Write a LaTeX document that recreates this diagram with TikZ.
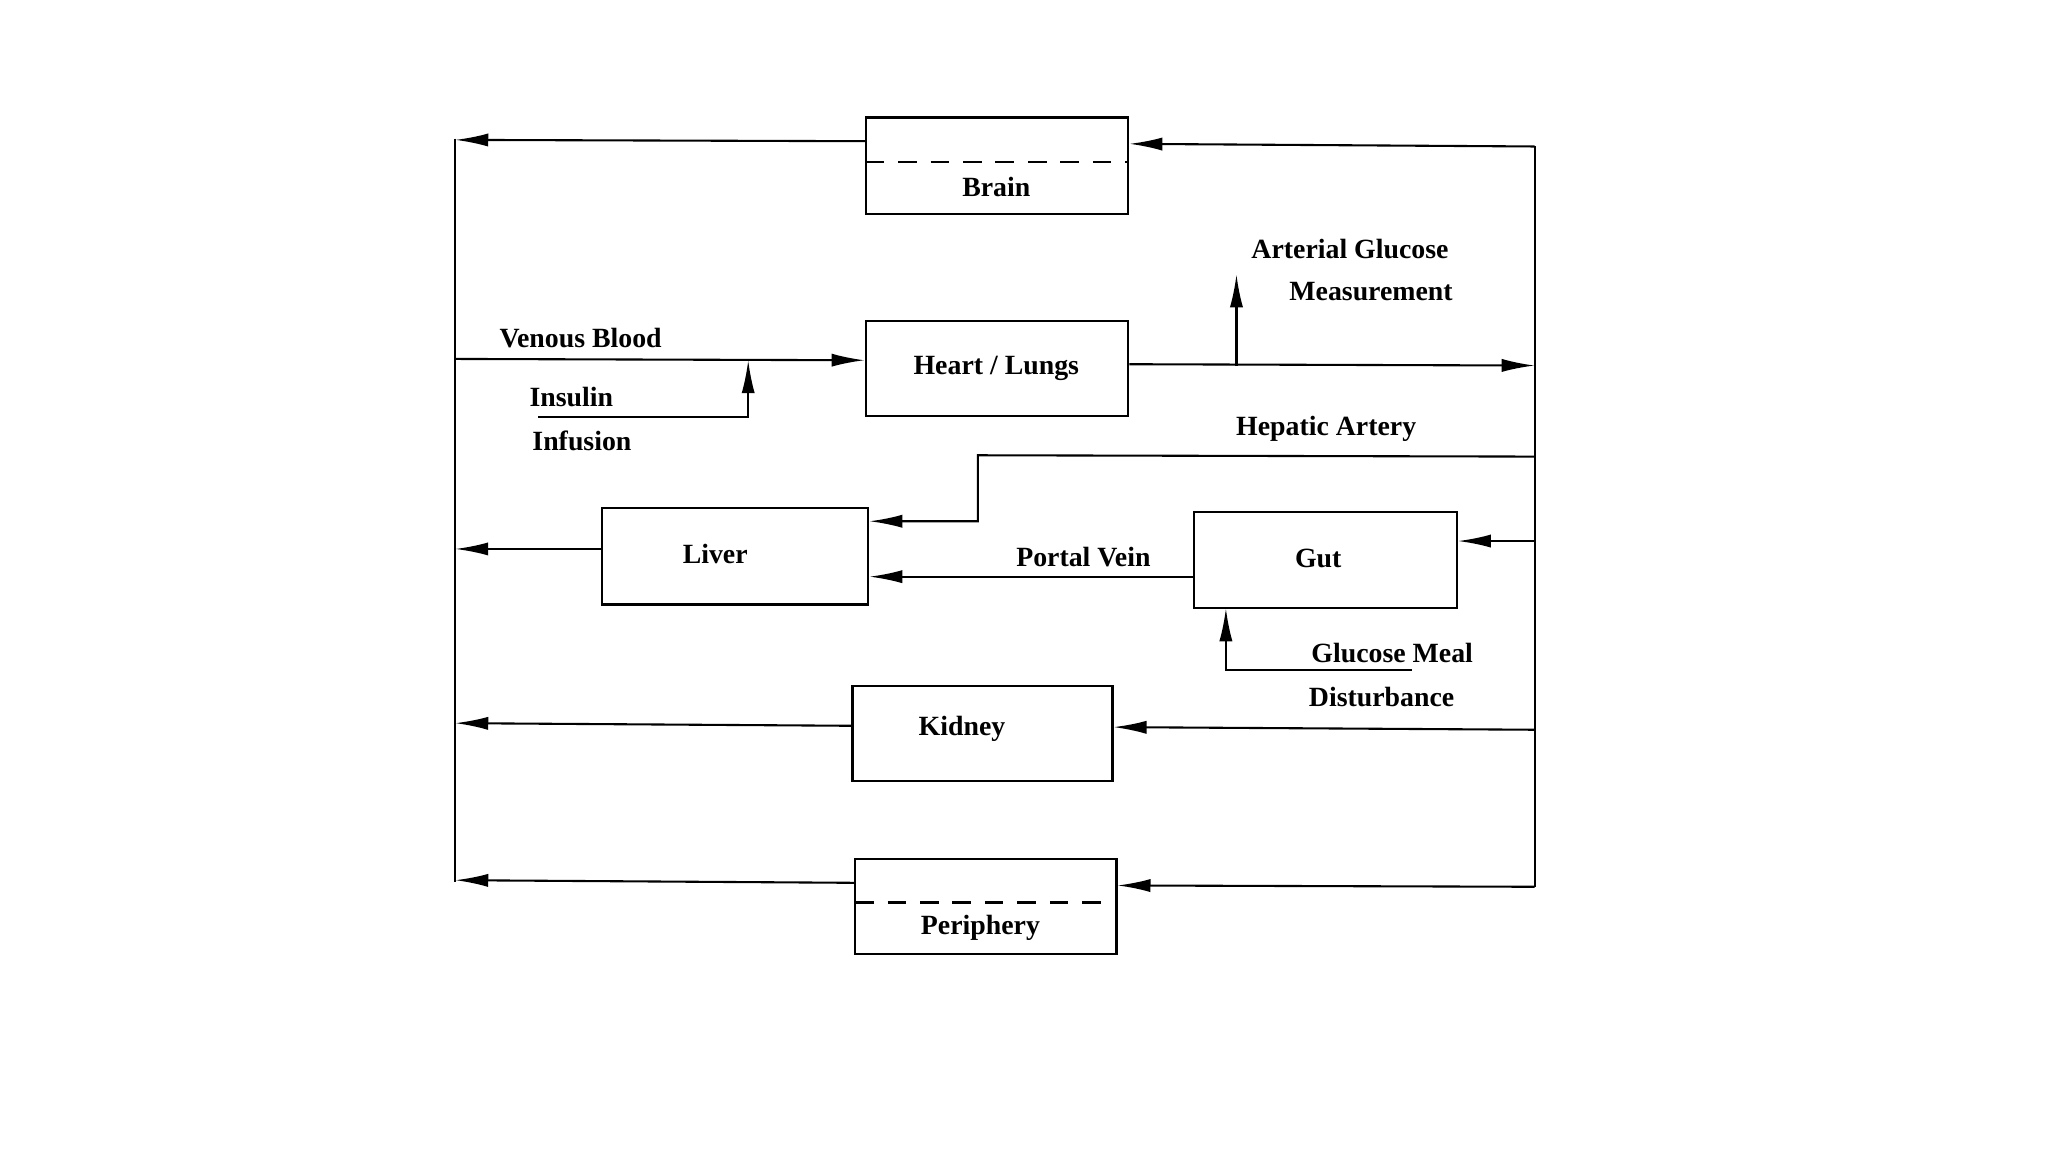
\documentclass[tikz,border=0pt]{standalone}
\usepackage{fontspec}
\setmainfont{Liberation Serif}
\usetikzlibrary{arrows.meta}
\begin{document}
\begin{tikzpicture}[x=0.02cm,y=-0.02cm,
  box/.style={draw,line width=1pt,inner sep=0pt},
  lbl/.style={font=\fontsize{12}{14}\selectfont\bfseries},
  ar/.style={line width=0.9pt,-{Latex[length=0.5cm,width=0.2cm]}},
  ln/.style={line width=0.9pt}]
\useasboundingbox (0,0) rectangle (1552,873);
% boxes
\node[box,minimum width=3.98cm,minimum height=1.46cm] (brain) at (755.5,125.5) {};
\draw[dashed,line width=1pt,dash pattern=on 8pt off 6pt] (656,123) -- (855,123);
\node[lbl] (brainl) at (755,142) {Brain};
\node[box,minimum width=3.98cm,minimum height=1.44cm] (heart) at (755.5,279) {};
\node[lbl] at (755,279) {Heart / Lungs};
\node[box,minimum width=4.04cm,minimum height=1.46cm] (liver) at (557,421.5) {};
\node[lbl] at (542,420) {Liver};
\node[box,minimum width=3.98cm,minimum height=1.46cm] (gut) at (1004.5,424.5) {};
\node[lbl] at (999,423) {Gut};
\node[box,minimum width=3.94cm,minimum height=1.44cm] (kidney) at (744.5,556) {};
\node[lbl] at (729,552) {Kidney};
\node[box,minimum width=3.96cm,minimum height=1.44cm] (peri) at (747,687) {};
\draw[dashed,line width=1pt,dash pattern=on 8pt off 6pt] (648,684) -- (846,684);
\node[lbl] at (743,703) {Periphery};
% coordinates
\coordinate (L1) at (345,105); \coordinate (L2) at (345,668);
\coordinate (R1) at (1163,111); \coordinate (R2) at (1163,672);
\draw[ln] (L1) -- (L2);
\draw[ln] (R1) -- (R2);
% brain
\draw[ar] (656,107) -- (345,106);
\draw[ar] (R1) -- (brain.east |- 0,109);
% heart
\coordinate (vb) at (345,272);
\draw[ar] (vb) -- (heart.west |- 0,273);
\node[lbl] at (440,256) {Venous Blood};
\coordinate (ins) at (408,316);
\draw[ar] (ins) -- (567,316) -- (567,273);
\node[lbl] at (433,301) {Insulin};
\node[lbl] at (441,334) {Infusion};
\coordinate (hr) at (1163,277);
\draw[ar] (heart.east |- 0,276) -- (hr);
\draw[ar] (937,277) -- (937,208);
\node[lbl] at (1023,189) {Arterial Glucose};
\node[lbl] at (1039,221) {Measurement};
% hepatic
\coordinate (ha) at (1163,346);
\draw[ar] (ha) -- (741,345) -- (741,395) -- (liver.east |- 0,395);
\node[lbl] at (1005,325) {Hepatic Artery};
\draw[ar] (liver.west |- 0,416) -- (345,416);
% gut
\coordinate (gr) at (1163,410);
\draw[ar] (gr) -- (gut.east |- 0,410);
\draw[ar] (gut.west |- 0,437) -- (liver.east |- 0,437);
\node[lbl] at (821,422) {Portal Vein};
\coordinate (gm) at (1070,508);
\draw[ar] (gm) -- (929,508) -- (929,461);
\node[lbl] at (1055,495) {Glucose Meal};
\node[lbl] at (1047,528) {Disturbance};
% kidney
\coordinate (kr) at (1163,553);
\draw[ar] (kr) -- (kidney.east |- 0,551);
\draw[ar] (kidney.west |- 0,550) -- (345,548);
% periphery
\draw[ar] (R2) -- (peri.east |- 0,671);
\draw[ar] (peri.west |- 0,669) -- (345,667);
\end{tikzpicture}
\end{document}
